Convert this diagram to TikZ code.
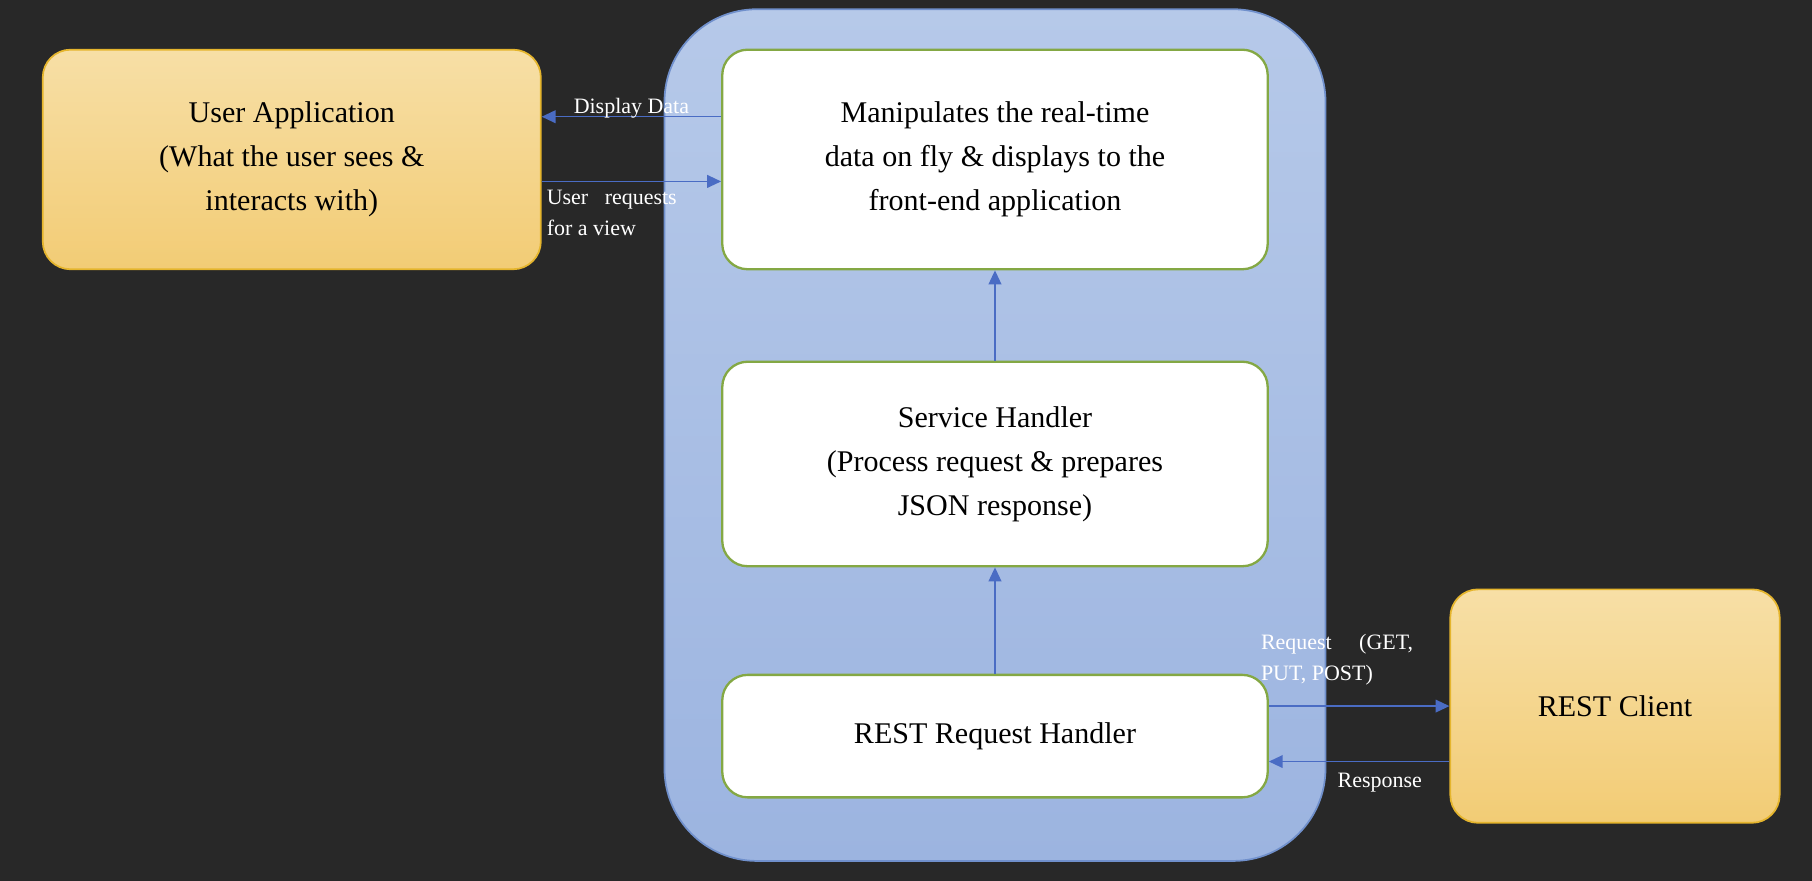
\documentclass[tikz,border=0pt]{standalone}
\usepackage{fontspec}
\setmainfont{Liberation Serif}
\usetikzlibrary{arrows.meta}
\definecolor{bg}{HTML}{282828}
\definecolor{bluetop}{HTML}{B6C9E9}
\definecolor{bluebot}{HTML}{9CB4E0}
\definecolor{blueline}{HTML}{7090CC}
\definecolor{ortop}{HTML}{F7DFA6}
\definecolor{orbot}{HTML}{F2CC75}
\definecolor{orline}{HTML}{E5B52D}
\definecolor{grline}{HTML}{84A844}
\definecolor{arr}{HTML}{4A6CC4}
\begin{document}
\begin{tikzpicture}[x=1pt,y=-1pt,
 box/.style={draw=grline,line width=2pt,fill=white,rounded corners=22pt,align=center,font=\fontsize{26}{38}\selectfont},
 obox/.style={draw=orline,line width=1.5pt,top color=ortop,bottom color=orbot,rounded corners=24pt,align=center,font=\fontsize{26}{38}\selectfont},
 con/.style={draw=arr,line width=1.3pt,-{Triangle[length=12pt,width=11pt]}},
 lbl/.style={text=white,font=\fontsize{19}{27}\selectfont,inner sep=1pt}]
\fill[bg] (0,0) rectangle (1568,762);
\node[draw=blueline,line width=1.5pt,top color=bluetop,bottom color=bluebot,rounded corners=80pt,minimum width=572pt,minimum height=737pt] (panel) at (861,376.5) {};
\node[obox,minimum width=431pt,minimum height=190pt] (ua) at (252.5,138) {User Application\\(What the user sees \&\\interacts with)};
\node[box,minimum width=472pt,minimum height=190pt] (top) at (861,138) {Manipulates the real-time\\data on fly \& displays to the\\front-end application};
\node[box,minimum width=472pt,minimum height=177pt] (svc) at (861,401.5) {Service Handler\\(Process request \& prepares\\JSON response)};
\node[box,minimum width=472pt,minimum height=106pt] (rest) at (861,637) {REST Request Handler};
\node[obox,minimum width=285pt,minimum height=202pt] (rc) at (1397.5,611) {REST Client};
\draw[con] (top.west|-0,101) -- (ua.east|-0,101) node[lbl,pos=0.5,above,yshift=-3pt] {Display Data};
\draw[con] (ua.east|-0,157) -- (top.west|-0,157);
\node[lbl,align=left,anchor=north west] (ur) at (472,163) {User\ \ \ requests\\for a view};
\draw[con] (svc.north) -- (top.south);
\draw[con] (rest.north) -- (svc.south);
\draw[con] (rest.east|-0,611) -- (rc.west|-0,611);
\node[lbl,align=left,anchor=south west] (rq) at (1090,594) {Request\ \ \ \ \ (GET,\\PUT, POST)};
\draw[con] (rc.west|-0,659) -- (rest.east|-0,659);
\node[lbl,anchor=north] (rs) at (1194,668) {Response};
\end{tikzpicture}
\end{document}
